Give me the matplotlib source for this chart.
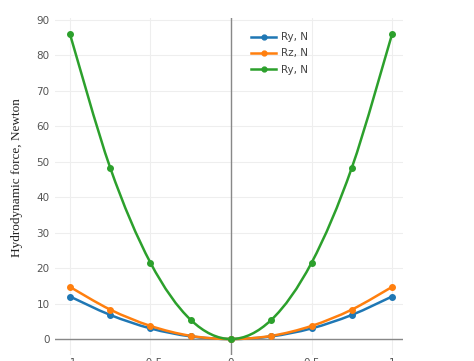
import matplotlib
matplotlib.use("Agg")
import matplotlib.pyplot as plt
from matplotlib.path import Path
from matplotlib.patches import PathPatch
from matplotlib.lines import Line2D
import numpy as np

# Data
x_vals = [-1, -0.75, -0.5, -0.25, 0, 0.25, 0.5, 0.75, 1]
ry1_vals = [12.0, 6.8, 3.0, 0.75, 0, 0.75, 3.0, 6.8, 12.0]
rz_vals = [14.7, 8.3, 3.7, 0.9, 0, 0.9, 3.7, 8.3, 14.7]
ry2_vals = [86.0, 48.3, 21.5, 5.4, 0, 5.4, 21.5, 48.3, 86.0]
series_names = ["Ry, N", "Rz, N", "Ry, N"]
y_ticks = [0, 10, 20, 30, 40, 50, 60, 70, 80, 90]
x_ticks = [-1, -0.5, 0, 0.5, 1]
x_tick_labels = ["\u22121", "\u22120.5", "0", "0.5", "1"]

colors = ["#1f77b4", "#ff7f0e", "#2ca02c"]

W, H = 474, 361
fig = plt.figure(figsize=(W / 100, H / 100), dpi=100)
# axes in pixel coords: left 55, right 403, top 18, bottom 355
ax = fig.add_axes([55 / W, (H - 355) / H, (403 - 55) / W, (355 - 18) / H])

ax.set_xlim(-1.093, 1.068)
ax.set_ylim(-4.5, 90.56)

for s in ax.spines.values():
    s.set_visible(False)

ax.set_yticks(y_ticks)
ax.set_xticks(x_ticks)
ax.set_xticklabels(x_tick_labels)
ax.tick_params(axis="both", length=0, labelsize=7.5, labelcolor="#555555", pad=4)
ax.tick_params(axis="x", pad=2.5)
ax.grid(True, color="#eeeeee", linewidth=0.8)
ax.set_axisbelow(True)
ax.axhline(0, color="#888888", linewidth=1.0, zorder=1)
ax.axvline(0, color="#888888", linewidth=1.0, zorder=1)


def smooth_path(xs, ys, k=1.0):
    pts = np.column_stack([xs, ys]).astype(float)
    n = len(pts)
    verts = [pts[0]]
    codes = [Path.MOVETO]
    for i in range(n - 1):
        p0 = pts[i - 1] if i > 0 else pts[i]
        p1 = pts[i]
        p2 = pts[i + 1]
        p3 = pts[i + 2] if i + 2 < n else pts[i + 1]
        c1 = p1 + (p2 - p0) / 6.0 * k
        c2 = p2 - (p3 - p1) / 6.0 * k
        verts += [c1, c2, p2]
        codes += [Path.CURVE4] * 3
    return Path(verts, codes)


handles = []
for vals, c, name in zip([ry1_vals, rz_vals, ry2_vals], colors, series_names):
    patch = PathPatch(smooth_path(x_vals, vals), facecolor="none", edgecolor=c,
                      linewidth=1.8, zorder=3, capstyle="round", joinstyle="round")
    ax.add_patch(patch)
    ax.plot(x_vals, vals, linestyle="none", marker="o", markersize=4,
            color=c, zorder=4)
    handles.append(Line2D([0], [0], color=c, linewidth=1.8, marker="o",
                          markersize=3.5))

leg = ax.legend(handles, series_names, loc="upper left",
                bbox_to_anchor=((247 - 55) / (403 - 55), 1 - (28 - 18) / (355 - 18)),
                frameon=False, fontsize=7.5, handlelength=2.4, handletextpad=0.5,
                labelspacing=0.6, borderaxespad=0)
for t in leg.get_texts():
    t.set_color("#444444")

fig.text(17 / W, 1 - 178 / H, "Hydrodynamic force, Newton", rotation=90,
         ha="center", va="center", family="Liberation Serif", fontsize=9.5,
         color="#222222")

fig.savefig("out.png", dpi=100)
